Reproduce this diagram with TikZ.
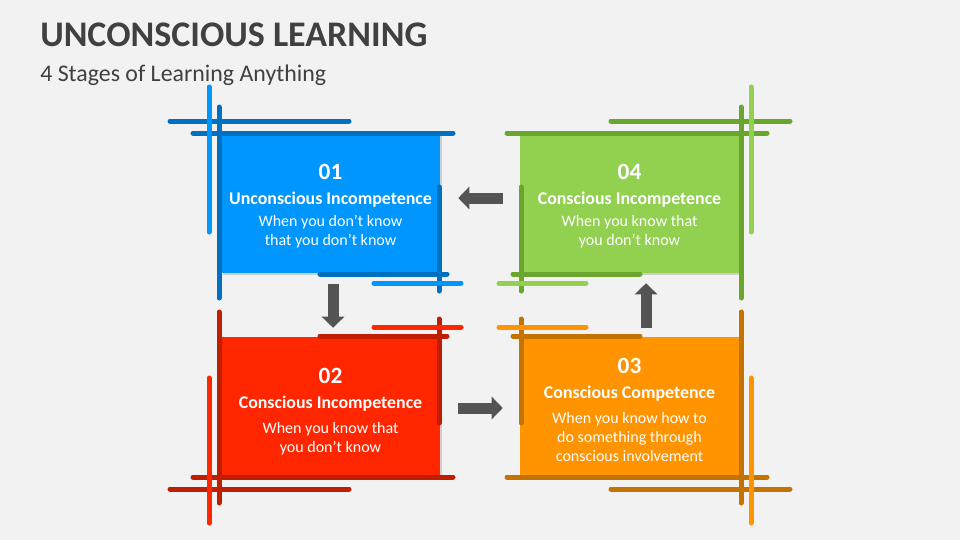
\documentclass[tikz,border=0pt]{standalone}
\usepackage{fontspec}
\setmainfont{Carlito}
\usetikzlibrary{arrows.meta,shadows}
\definecolor{bg}{HTML}{F2F2F2}
\definecolor{titlegray}{HTML}{404040}
\definecolor{arrowgray}{HTML}{545454}
\definecolor{bluefill}{HTML}{0096FF}
\definecolor{bluedark}{HTML}{0070C0}
\definecolor{redfill}{HTML}{FF2600}
\definecolor{reddark}{HTML}{C01E00}
\definecolor{greenfill}{HTML}{92D050}
\definecolor{greendark}{HTML}{6AA62E}
\definecolor{orangefill}{HTML}{FF9300}
\definecolor{orangedark}{HTML}{C47200}
\begin{document}
\begin{tikzpicture}[x=0.75pt,y=-0.75pt,
  bar/.style={line width=3.75pt,line cap=round},
  box/.style={minimum width=164.25pt,minimum height=105pt,inner sep=0pt,draw=none,
    drop shadow={shadow xshift=1.5pt,shadow yshift=-1.5pt,opacity=0.25,fill=black!60}},
  num/.style={text=white,font=\fontsize{17.5}{19}\selectfont\bfseries,inner sep=0pt,anchor=base},
  ttl/.style={text=white,font=\fontsize{13.4}{15}\selectfont\bfseries,inner sep=0pt,anchor=base},
  dsc/.style={text=white,font=\fontsize{12}{14}\selectfont,inner sep=0pt,anchor=base},
  flow/.style={draw=arrowgray,line width=8.25pt,-{Triangle[width=16.5pt,length=8.25pt]}}
]
\fill[bg] (0,0) rectangle (960,540);
\useasboundingbox (0,0) rectangle (960,540);

\node[anchor=base west,inner sep=0pt,text=titlegray,font=\fontsize{27}{30}\selectfont\bfseries] (title) at (40,46) {UNCONSCIOUS LEARNING};
\node[anchor=base west,inner sep=0pt,text=titlegray,font=\fontsize{17.9}{20}\selectfont] (subtitle) at (40,81) {4 Stages of Learning Anything};

% boxes
\node[box,fill=bluefill] (b1) at (330.5,203) {};
\node[box,fill=greenfill] (b4) at (629.5,203) {};
\node[box,fill=redfill] (b2) at (330.5,407) {};
\node[box,fill=orangefill] (b3) at (629.5,407) {};

% box 1 lines
\draw[bar,bluedark] (193,133) -- (453,133);
\draw[bar,bluedark] (170,121) -- (349,121);
\draw[bar,bluefill] (209,87) -- (209,232);
\draw[bar,bluedark] (219,107) -- (219,298);
\draw[bar,bluedark] (439,187) -- (439,291);
\draw[bar,bluedark] (320,274) -- (447,274);
\draw[bar,bluefill] (374,283) -- (461,283);

% box 4 lines
\draw[bar,greendark] (507,133) -- (767,133);
\draw[bar,greendark] (611,121) -- (790,121);
\draw[bar,greenfill] (751,87) -- (751,232);
\draw[bar,greendark] (741,107) -- (741,298);
\draw[bar,greendark] (521,187) -- (521,291);
\draw[bar,greendark] (513,274) -- (640,274);
\draw[bar,greenfill] (499,283) -- (586,283);

% box 2 lines
\draw[bar,reddark] (193,477) -- (453,477);
\draw[bar,reddark] (170,489) -- (349,489);
\draw[bar,redfill] (209,523) -- (209,378);
\draw[bar,reddark] (219,503) -- (219,312);
\draw[bar,reddark] (439,423) -- (439,319);
\draw[bar,reddark] (320,336) -- (447,336);
\draw[bar,redfill] (374,327) -- (461,327);

% box 3 lines
\draw[bar,orangedark] (507,477) -- (767,477);
\draw[bar,orangedark] (611,489) -- (790,489);
\draw[bar,orangefill] (751,523) -- (751,378);
\draw[bar,orangedark] (741,503) -- (741,312);
\draw[bar,orangedark] (521,423) -- (521,319);
\draw[bar,orangedark] (513,336) -- (640,336);
\draw[bar,orangefill] (499,327) -- (586,327);

% texts box 1
\node[num] (n1) at (330.5,179) {01};
\node[ttl] (t1) at (330.5,204) {Unconscious Incompetence};
\node[dsc] (d1a) at (330.5,226) {When you don’t know};
\node[dsc] (d1b) at (330.5,245) {that you don’t know};
% box 4
\node[num] (n4) at (629.5,179) {04};
\node[ttl] (t4) at (629.5,204) {Conscious Incompetence};
\node[dsc] (d4a) at (629.5,226) {When you know that};
\node[dsc] (d4b) at (629.5,245) {you don’t know};
% box 2
\node[num] (n2) at (330.5,383) {02};
\node[ttl] (t2) at (330.5,408) {Conscious Incompetence};
\node[dsc] (d2a) at (330.5,433) {When you know that};
\node[dsc] (d2b) at (330.5,452) {you don’t know};
% box 3
\node[num] (n3) at (629.5,373) {03};
\node[ttl] (t3) at (629.5,398) {Conscious Competence};
\node[dsc] (d3a) at (629.5,423) {When you know how to};
\node[dsc] (d3b) at (629.5,442) {do something through};
\node[dsc] (d3c) at (629.5,461) {conscious involvement};

% flow arrows
\draw[flow,shorten <=12.75pt,shorten >=13.5pt] ([yshift=3.75pt]b4.west) -- ([yshift=3.75pt]b1.east);
\draw[flow,shorten <=8.25pt,shorten >=6.75pt] ([xshift=1.9pt]b1.south) -- ([xshift=1.9pt]b2.north);
\draw[flow,shorten <=13.5pt,shorten >=12.75pt] ([yshift=-0.75pt]b2.east) -- ([yshift=-0.75pt]b3.west);
\draw[flow,shorten <=6.75pt,shorten >=7.5pt] ([xshift=12.4pt]b3.north) -- ([xshift=12.4pt]b4.south);
\end{tikzpicture}
\end{document}
